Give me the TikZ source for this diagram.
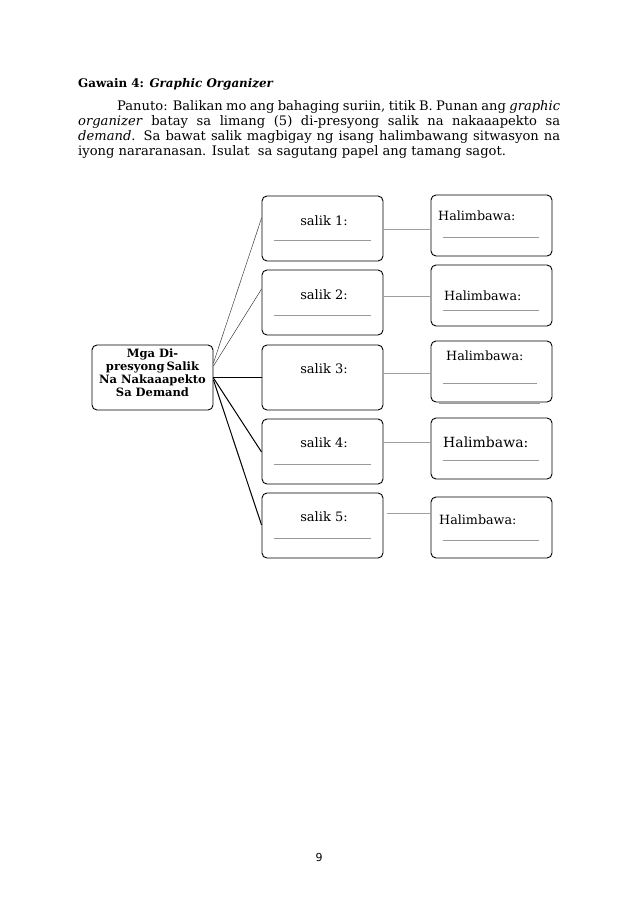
\documentclass[tikz,border=0pt]{standalone}
\usepackage{fontspec}
\setmainfont{DejaVu Serif}
\setsansfont{DejaVu Sans}
\usetikzlibrary{calc}
\tikzset{
  boxshape/.style={draw=black, line width=0.9pt, rounded corners=5pt, minimum width=121pt, inner sep=0pt},
  midbox/.style={boxshape, minimum height=65pt},
  rightbox/.style={boxshape, minimum height=61pt},
  blank/.style={draw=gray!80, line width=0.8pt},
  link/.style={draw=gray!75, line width=0.7pt},
  thinspoke/.style={draw=black!75, line width=0.5pt},
  thickspoke/.style={draw=black, line width=1pt},
  saliktext/.style={anchor=base, inner sep=0pt, font=\fontsize{13}{15}\selectfont},
  halitext/.style={anchor=base west, inner sep=0pt, font=\fontsize{12.7}{15}\selectfont}
}
\begin{document}
\begin{tikzpicture}[x=1pt,y=-1pt]
\useasboundingbox (0,0) rectangle (638,902);
% heading
\node[anchor=base west, inner sep=0pt, font=\fontsize{11.9}{14}\selectfont\bfseries] (title) at (78,87) {Gawain 4: \textit{Graphic Organizer}};
\node[anchor=north west, inner sep=0pt, text width=482pt, align=justify, font=\fontsize{13.1}{15}\selectfont] (para) at (78,100)
{\hspace*{39pt}Panuto: Balikan mo ang bahaging suriin, titik B. Punan ang \textit{graphic}\linebreak
\textit{organizer} batay sa limang (5) di-presyong salik na nakaaapekto sa\linebreak
\textit{demand}. Sa bawat salik magbigay ng isang halimbawang sitwasyon na\linebreak
iyong nararanasan. Isulat\ \ sa sagutang papel ang tamang sagot.};
% central box
\node[boxshape, minimum height=65pt] (L) at (152.5,377.5) {};
\node[align=center, inner sep=0pt, font=\fontsize{11.5}{13}\selectfont\bfseries] (Ltext) at (152.5,373) {Mga Di-\\presyong\,Salik\\Na Nakaaapekto\\Sa Demand};
% middle boxes
\node[midbox] (s1) at (322.5,228.5) {};
\node[midbox] (s2) at (322.5,302.5) {};
\node[midbox] (s3) at (322.5,377.5) {};
\node[midbox] (s4) at (322.5,451.5) {};
\node[midbox] (s5) at (322.5,525.5) {};
\node[saliktext] (t1) at (324,225) {salik 1:};
\node[saliktext] (t2) at (324,299) {salik 2:};
\node[saliktext] (t3) at (324,373) {salik 3:};
\node[saliktext] (t4) at (324,447) {salik 4:};
\node[saliktext] (t5) at (324,521) {salik 5:};
\draw[blank] (274,240) -- (371,240);
\draw[blank] (274,315) -- (371,315);
\draw[blank] (274,464) -- (371,464);
\draw[blank] (274,538) -- (371,538);
% right boxes
\node[rightbox] (h1) at (491.5,225.5) {};
\node[rightbox] (h2) at (491.5,295.5) {};
\node[rightbox] (h3) at (491.5,371.5) {};
\node[rightbox] (h4) at (491.5,448.5) {};
\node[rightbox] (h5) at (491.5,527.5) {};
\node[halitext] (u1) at (438,220) {Halimbawa:};
\node[halitext] (u2) at (444,300) {Halimbawa:};
\node[halitext] (u3) at (446,360) {Halimbawa:};
\node[halitext, font=\fontsize{14}{16}\selectfont] (u4) at (443,447) {Halimbawa:};
\node[halitext] (u5) at (439,524) {Halimbawa:};
\draw[blank] (443,237) -- (539,237);
\draw[blank] (443,310) -- (539,310);
\draw[blank] (443,383) -- (537,383);
\draw[blank] (439,403.5) -- (540,403.5);
\draw[blank] (443,460) -- (539,460);
\draw[blank] (443,540) -- (539,540);
% links middle -> right
\draw[link] (s1.east |- 0,229) -- (h1.west |- 0,229);
\draw[link] (s2.east |- 0,296) -- (h2.west |- 0,296);
\draw[link] (s3.east |- 0,373) -- (h3.west |- 0,373);
\draw[link] (s4.east |- 0,442) -- (h4.west |- 0,442);
\draw[link] ($(s5.east |- 0,513)+(4,0)$) -- (h5.west |- 0,513);
% spokes from central box
\draw[thinspoke] (L.east |- 0,363) -- (s1.west |- 0,218);
\draw[thinspoke] (L.east |- 0,366) -- (s2.west |- 0,289);
\draw[thickspoke] (L.east |- 0,377) -- (s3.west |- 0,377);
\draw[thickspoke] (L.east |- 0,378) -- (s4.west |- 0,452);
\draw[thickspoke] (L.east |- 0,380) -- (s5.west |- 0,525);
% page number
\node[anchor=base, inner sep=0pt, font=\fontsize{11}{13}\selectfont\sffamily] (page) at (319,861) {9};
\end{tikzpicture}
\end{document}
